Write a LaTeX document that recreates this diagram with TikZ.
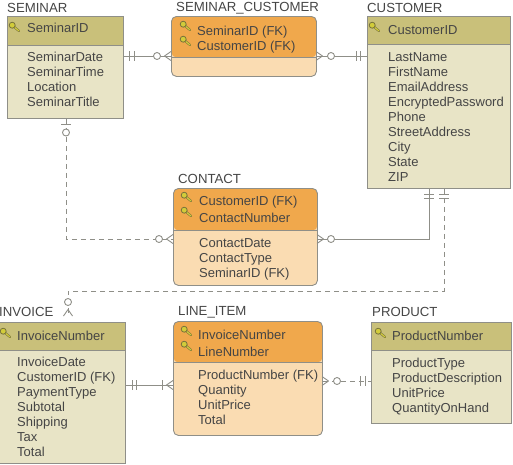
\documentclass[tikz,border=0pt]{standalone}
\usepackage{fontspec}
\setmainfont{Liberation Sans}
\usepackage{xcolor}
\usepackage{tikz}
\usetikzlibrary{positioning,calc}
\definecolor{strongtop}{HTML}{C9C07A}
\definecolor{strongbody}{HTML}{E8E4C6}
\definecolor{weaktop}{HTML}{F0A84C}
\definecolor{weakbody}{HTML}{FADCB2}
\definecolor{linegray}{HTML}{8F8F88}
\definecolor{textgray}{HTML}{454545}
\definecolor{keyyellow}{HTML}{D2CC3A}
\definecolor{keydark}{HTML}{77733A}
\tikzset{
  strongbox/.style args={#1/#2}{draw=linegray, line width=0.9pt, fill=strongbody, anchor=north west, minimum width=#1pt, minimum height=#2pt, inner sep=0pt},
  weakbox/.style args={#1/#2}{draw=linegray, line width=0.9pt, rounded corners=5pt, fill=weakbody, anchor=north west, minimum width=#1pt, minimum height=#2pt, inner sep=0pt},
  stronghead/.style={path picture={\fill[strongtop] (path picture bounding box.north west) rectangle ([yshift=-#1pt]path picture bounding box.north east); \draw[linegray, line width=0.9pt] ([yshift=-#1pt]path picture bounding box.north west) -- ([yshift=-#1pt]path picture bounding box.north east);}},
  weakhead/.style={path picture={\fill[weaktop] (path picture bounding box.north west) rectangle ([yshift=-#1pt]path picture bounding box.north east); \draw[linegray, line width=0.9pt] ([yshift=-#1pt]path picture bounding box.north west) -- ([yshift=-#1pt]path picture bounding box.north east);}},
  boxtitle/.style={anchor=west, inner sep=0pt, text=textgray, font=\fontsize{13.2}{15}\selectfont},
  boxtext/.style={anchor=north west, inner sep=0pt, align=left, text=textgray, font=\fontsize{13}{15}\selectfont},
  rel/.style={draw=linegray, line width=0.9pt},
  reldash/.style={draw=linegray, line width=0.9pt, dash pattern=on 5pt off 4pt},
  keyicon/.pic={\draw[keydark, line width=2.2pt, line cap=round] (-1,-1) -- (5,4); \draw[keyyellow, line width=1.1pt, line cap=round] (-1,-1) -- (5,4); \draw[keydark, line width=0.8pt, fill=keyyellow] (-1.8,-1.8) circle (3pt);},
  oneone/.pic={\draw[linegray, line width=0.9pt] (-2.2,-5) -- (-2.2,5); \draw[linegray, line width=0.9pt] (2.2,-5) -- (2.2,5);},
  onebar/.pic={\draw[linegray, line width=0.9pt] (0,-5) -- (0,5);},
  zero/.pic={\draw[linegray, line width=0.9pt, fill=white] (0,0) circle (3.5pt);},
  manyright/.pic={\draw[linegray, line width=0.9pt] (0,0) -- (6.5,4.5); \draw[linegray, line width=0.9pt] (0,0) -- (6.5,-4.5);}
}
\begin{document}
\begin{tikzpicture}[x=1pt, y=-1pt]
  \useasboundingbox (0,0) rectangle (513,464);
  % boxes
  \node[strongbox=116/102, stronghead=29] (seminar) at (7,16) {};
  \node[weakbox=145/60, weakhead=41] (seminarcustomer) at (171,16) {};
  \node[strongbox=143/172, stronghead=28] (customer) at (367,16) {};
  \node[weakbox=144/97, weakhead=42] (contact) at (173,188) {};
  \node[strongbox=127/141, stronghead=28] (invoice) at (-2,322) {};
  \node[weakbox=149/114, weakhead=41] (lineitem) at (173,321) {};
  \node[strongbox=140/101, stronghead=28] (product) at (371,322) {};

  % titles
  \node[boxtitle] (seminartitle) at (7,8) {SEMINAR};
  \node[boxtitle] (seminarcustomertitle) at (176,8) {SEMINAR\_CUSTOMER};
  \node[boxtitle] (customertitle) at (367,8) {CUSTOMER};
  \node[boxtitle] (contacttitle) at (178,179) {CONTACT};
  \node[boxtitle] (invoicetitle) at (-1,312) {INVOICE};
  \node[boxtitle] (lineitemtitle) at (178,312) {LINE\_ITEM};
  \node[boxtitle] (producttitle) at (372,312) {PRODUCT};

  % keys and attributes
  \pic at (14,27) {keyicon};
  \node[boxtext] (seminarkey) at (27,23) {SeminarID};
  \node[boxtext] (seminarattr) at (27,52) {SeminarDate\\SeminarTime\\Location\\SeminarTitle};

  \pic at (185,26) {keyicon};
  \pic at (185,41) {keyicon};
  \node[boxtext] (seminarcustomerkey) at (197,26) {SeminarID (FK)\\CustomerID (FK)};

  \pic at (374,27) {keyicon};
  \node[boxtext] (customerkey) at (388,25) {CustomerID};
  \node[boxtext] (customerattr) at (388,52) {LastName\\FirstName\\EmailAddress\\EncryptedPassword\\Phone\\StreetAddress\\City\\State\\ZIP};

  \pic at (186,197) {keyicon};
  \pic at (186,212) {keyicon};
  \node[boxtext, font=\fontsize{13}{16.5}\selectfont] (contactkey) at (199,196) {CustomerID (FK)\\ContactNumber};
  \node[boxtext] (contactattr) at (199,238) {ContactDate\\ContactType\\SeminarID (FK)};

  \pic at (5,333) {keyicon};
  \node[boxtext] (invoicekey) at (17,331) {InvoiceNumber};
  \node[boxtext] (invoiceattr) at (17,357) {InvoiceDate\\CustomerID (FK)\\PaymentType\\Subtotal\\Shipping\\Tax\\Total};

  \pic at (186,331) {keyicon};
  \pic at (186,346) {keyicon};
  \node[boxtext, font=\fontsize{13}{16.5}\selectfont] (lineitemkey) at (198,330) {InvoiceNumber\\LineNumber};
  \node[boxtext] (lineitemattr) at (198,370) {ProductNumber (FK)\\Quantity\\UnitPrice\\Total};

  \pic at (380,333) {keyicon};
  \node[boxtext] (productkey) at (392,331) {ProductNumber};
  \node[boxtext] (productattr) at (392,358) {ProductType\\ProductDescription\\UnitPrice\\QuantityOnHand};

  % relationships
  \coordinate (seminarout) at (seminar.east |- 0,56);
  \coordinate (seminarcustomerin) at (seminarcustomer.west |- 0,56);
  \coordinate (seminarcustomerout) at (seminarcustomer.east |- 0,56);
  \coordinate (customerin) at (customer.west |- 0,56);
  \draw[rel] (seminarout) -- (seminarcustomerin);
  \draw[rel] (seminarcustomerout) -- (customerin);
  \draw[reldash] (seminar.south -| 66,0) -- (66,239) -- (contact.west |- 0,239);
  \draw[rel] (customer.south -| 429,0) -- (429,239) -- (contact.east |- 0,239);
  \draw[reldash, shorten >=6pt] (customer.south -| 444,0) -- (444,291) -- (68,291) -- (invoice.north -| 68,0);
  \draw[rel] (invoice.east |- 0,385) -- (lineitem.west |- 0,385);
  \draw[reldash] (lineitem.east |- 0,381) -- (product.west |- 0,381);

  % line ends
  \pic at (132,56) {oneone};
  \pic at (157,56) {zero};
  \pic at (164.5,56) {manyright};
  \pic[xscale=-1] at (322.5,56) {manyright};
  \pic at (331,56) {zero};
  \pic at (358.5,56) {oneone};

  \pic[rotate=90] at (66,124) {onebar};
  \pic at (66,132.5) {zero};
  \pic at (159,239) {zero};
  \pic at (166.5,239) {manyright};

  \pic[xscale=-1] at (323.5,239) {manyright};
  \pic at (331,239) {zero};
  \pic[rotate=90] at (429,196.5) {oneone};
  \pic[rotate=90] at (444,196.5) {oneone};

  \pic at (68,302) {zero};
  \pic[rotate=-90] at (68,309.5) {manyright};

  \pic at (134.5,385) {oneone};
  \pic at (162.5,385) {onebar};
  \pic at (166.5,385) {manyright};

  \pic[xscale=-1] at (328.5,381) {manyright};
  \pic at (337,381) {zero};
  \pic at (363,381) {oneone};
\end{tikzpicture}
\end{document}
